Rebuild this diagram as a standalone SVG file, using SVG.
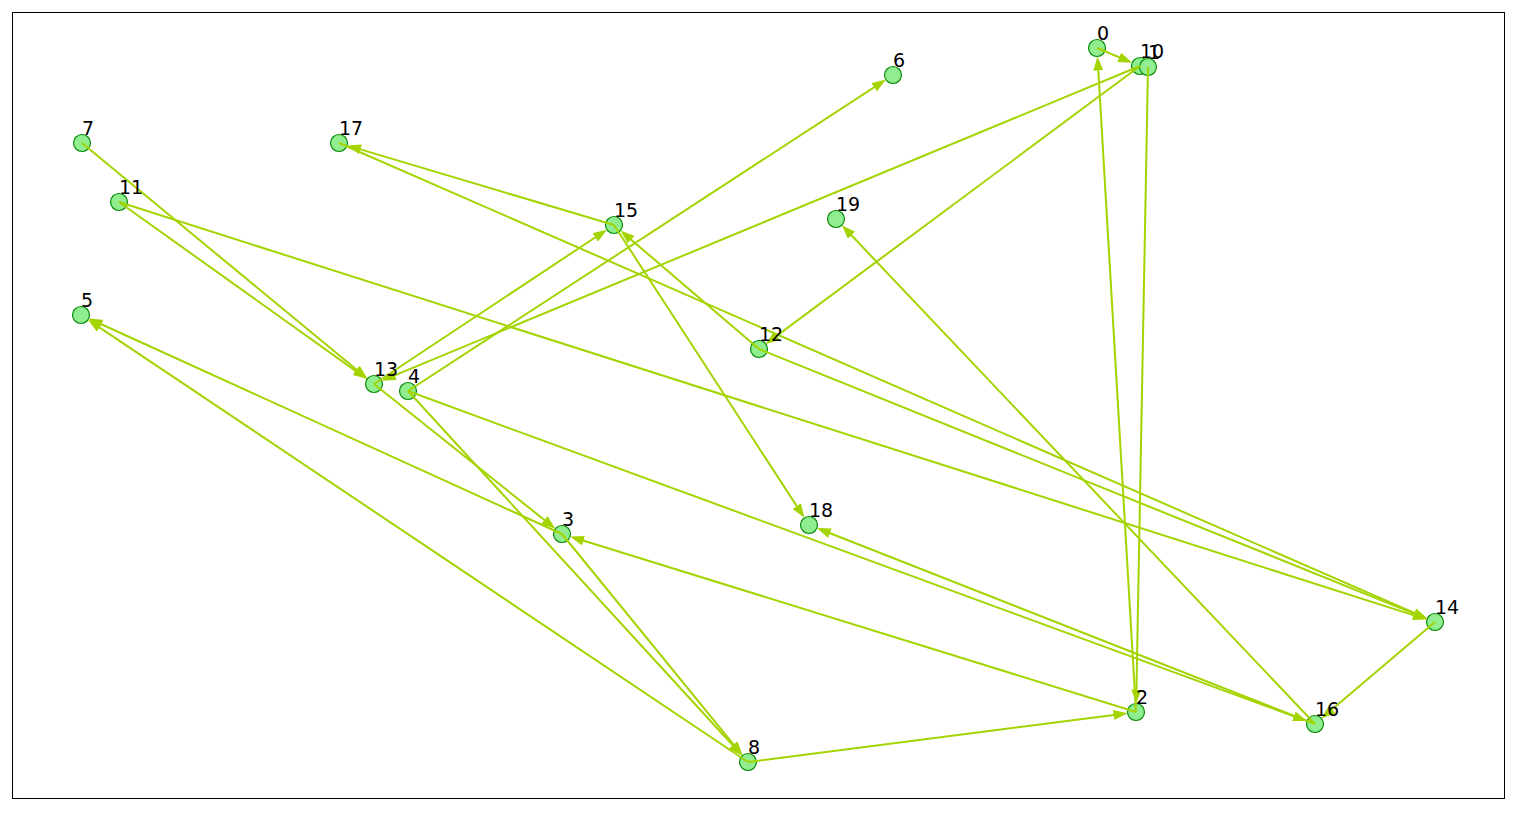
<svg xmlns="http://www.w3.org/2000/svg" width="1528" height="816" viewBox="0 0 1528 816">
<style>
.e{stroke:#a3d400;stroke-width:2;fill:none;marker-end:url(#ah)}
.n circle{fill:#90ee90;stroke:#078a07;stroke-width:1.2}
.lbl text{font-family:"DejaVu Sans",sans-serif;font-size:19px;fill:#000}
</style>
<defs>
<marker id="ah" viewBox="0 -5 14 10" markerWidth="14" markerHeight="10" refX="8" refY="0" orient="auto" markerUnits="userSpaceOnUse">
<path d="M0,-5 L14,0 L0,5 z" fill="#a3d400"/>
</marker>
</defs>
<rect x="12.5" y="12.5" width="1492" height="786" fill="#fff" stroke="#000" stroke-width="1"/>
<g id="nodes">
<g id="n0" class="n"><circle cx="1097" cy="48" r="8.5"/></g>
<g id="n10" class="n"><circle cx="1140" cy="66" r="8.5"/></g>
<g id="n1" class="n"><circle cx="1148" cy="67" r="8.5"/></g>
<g id="n2" class="n"><circle cx="1136" cy="712" r="8.5"/></g>
<g id="n3" class="n"><circle cx="562" cy="534" r="8.5"/></g>
<g id="n4" class="n"><circle cx="408" cy="391" r="8.5"/></g>
<g id="n5" class="n"><circle cx="81" cy="315" r="8.5"/></g>
<g id="n6" class="n"><circle cx="893" cy="75" r="8.5"/></g>
<g id="n7" class="n"><circle cx="82" cy="143" r="8.5"/></g>
<g id="n8" class="n"><circle cx="748" cy="762" r="8.5"/></g>
<g id="n11" class="n"><circle cx="119" cy="202" r="8.5"/></g>
<g id="n12" class="n"><circle cx="759" cy="349" r="8.5"/></g>
<g id="n13" class="n"><circle cx="374" cy="384" r="8.5"/></g>
<g id="n14" class="n"><circle cx="1435" cy="622" r="8.5"/></g>
<g id="n15" class="n"><circle cx="614" cy="225" r="8.5"/></g>
<g id="n16" class="n"><circle cx="1315" cy="724" r="8.5"/></g>
<g id="n17" class="n"><circle cx="339" cy="143" r="8.5"/></g>
<g id="n18" class="n"><circle cx="809" cy="525" r="8.5"/></g>
<g id="n19" class="n"><circle cx="836" cy="219" r="8.5"/></g>
</g>
<g id="edges">
<line class="e" x1="1097" y1="48" x2="1126.6" y2="60.4"/>
<line class="e" x1="1136" y1="712" x2="1097.85" y2="62.5"/>
<line class="e" x1="1148" y1="67" x2="1136.3" y2="697.5"/>
<line class="e" x1="1140" y1="66" x2="770.6" y2="340.4"/>
<line class="e" x1="1140" y1="66" x2="387.4" y2="378.4"/>
<line class="e" x1="408" y1="391" x2="880.9" y2="82.9"/>
<line class="e" x1="374" y1="384" x2="601.9" y2="233.0"/>
<line class="e" x1="614" y1="225" x2="352.9" y2="147.1"/>
<line class="e" x1="339" y1="143" x2="1421.7" y2="616.2"/>
<line class="e" x1="759" y1="349" x2="625.0" y2="234.4"/>
<line class="e" x1="759" y1="349" x2="1421.6" y2="616.6"/>
<line class="e" x1="614" y1="225" x2="801.1" y2="512.8"/>
<line class="e" x1="82" y1="143" x2="362.8" y2="374.8"/>
<line class="e" x1="119" y1="202" x2="362.2" y2="375.6"/>
<line class="e" x1="119" y1="202" x2="1421.2" y2="617.6"/>
<line class="e" x1="374" y1="384" x2="550.7" y2="525.0"/>
<line class="e" x1="562" y1="534" x2="94.2" y2="321.0"/>
<line class="e" x1="748" y1="762" x2="93.0" y2="323.1"/>
<line class="e" x1="408" y1="391" x2="738.2" y2="751.3"/>
<line class="e" x1="562" y1="534" x2="738.8" y2="750.8"/>
<line class="e" x1="748" y1="762" x2="1121.6" y2="713.9"/>
<line class="e" x1="1136" y1="712" x2="575.8" y2="538.3"/>
<line class="e" x1="408" y1="391" x2="1301.4" y2="719.0"/>
<line class="e" x1="1315" y1="724" x2="822.5" y2="530.3"/>
<line class="e" x1="1315" y1="724" x2="846.0" y2="229.5"/>
<line class="e" x1="1435" y1="622" x2="1326.0" y2="714.6"/>
</g>
<g id="labels" class="lbl">
<text x="1097" y="39.5">0</text>
<text x="1140" y="57.5">10</text>
<text x="1148" y="58.5">1</text>
<text x="1136" y="703.5">2</text>
<text x="562" y="525.5">3</text>
<text x="408" y="382.5">4</text>
<text x="81" y="306.5">5</text>
<text x="893" y="66.5">6</text>
<text x="82" y="134.5">7</text>
<text x="748" y="753.5">8</text>
<text x="119" y="193.5">11</text>
<text x="759" y="340.5">12</text>
<text x="374" y="375.5">13</text>
<text x="1435" y="613.5">14</text>
<text x="614" y="216.5">15</text>
<text x="1315" y="715.5">16</text>
<text x="339" y="134.5">17</text>
<text x="809" y="516.5">18</text>
<text x="836" y="210.5">19</text>
</g>
</svg>
